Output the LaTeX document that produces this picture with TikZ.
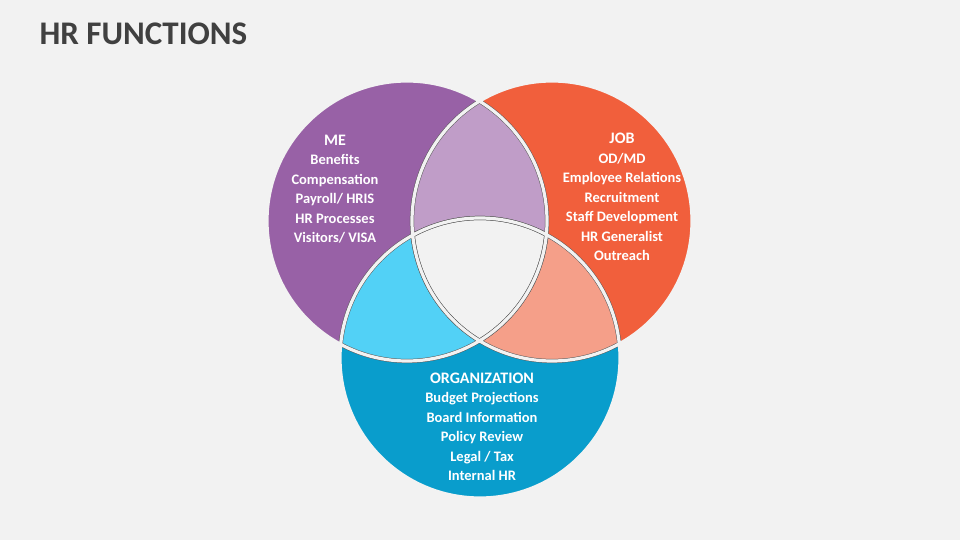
\documentclass[tikz,border=0pt]{standalone}
\usepackage{fontspec}
\setmainfont{Carlito}
\definecolor{bg}{HTML}{F2F2F2}
\definecolor{me}{HTML}{9861A6}
\definecolor{job}{HTML}{F15F3C}
\definecolor{org}{HTML}{099DCC}
\definecolor{mejob}{HTML}{C09DC8}
\definecolor{joborg}{HTML}{F59F89}
\definecolor{meorg}{HTML}{52D1F6}
\definecolor{title}{HTML}{404040}
\begin{document}
\begin{tikzpicture}[x=1pt,y=-1pt,
  lbl/.style={text=white,font=\bfseries\fontsize{14.5}{19.5}\selectfont,align=center}]
\fill[bg] (0,0) rectangle (960,540);
\useasboundingbox (0,0) rectangle (960,540);
\node[anchor=west,text=title,font=\bfseries\fontsize{33}{36}\selectfont] (t) at (36,34) {HR FUNCTIONS};
\def\cme{(407,221) circle (140)}
\def\cjob{(552,221) circle (140)}
\def\corg{(480,358) circle (140)}
\fill[me] \cme; \fill[job] \cjob; \fill[org] \corg;
\begin{scope}\clip \cme; \fill[mejob] \cjob; \end{scope}
\begin{scope}\clip \cjob; \fill[joborg] \corg; \end{scope}
\begin{scope}\clip \cme; \fill[meorg] \corg; \end{scope}
\begin{scope}\clip \cme; \clip \cjob; \fill[bg] \corg; \end{scope}
\begin{scope}\clip \cme; \draw[gray!70!black,line width=4.2pt] \cjob \corg; \end{scope}
\begin{scope}\clip \cjob; \draw[gray!70!black,line width=4.2pt] \cme \corg; \end{scope}
\begin{scope}\clip \corg; \draw[gray!70!black,line width=4.2pt] \cme \cjob; \end{scope}
\draw[bg,line width=3.2pt] \cme \cjob \corg;
\node[lbl] (me) at (335,189) {{\fontsize{16}{19.5}\selectfont ME}\\Benefits\\Compensation\\Payroll/ HRIS\\HR Processes\\Visitors/ VISA};
\node[lbl] (job) at (622,197) {{\fontsize{16}{19.5}\selectfont JOB}\\OD/MD\\Employee Relations\\Recruitment\\Staff Development\\HR Generalist\\Outreach};
\node[lbl] (org) at (482,427) {{\fontsize{16}{19.5}\selectfont ORGANIZATION}\\Budget Projections\\Board Information\\Policy Review\\Legal / Tax\\Internal HR};
\end{tikzpicture}
\end{document}
